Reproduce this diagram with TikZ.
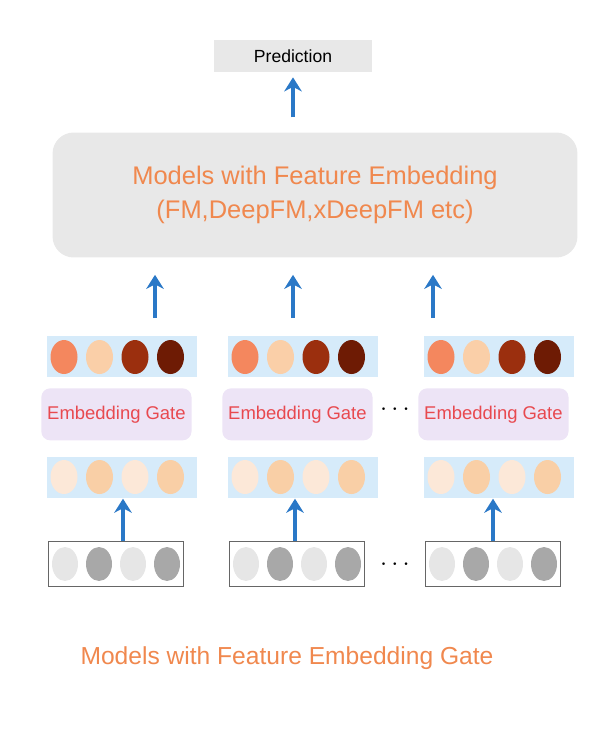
\documentclass[tikz,border=0pt]{standalone}
\usepackage{fontspec}
\setmainfont{Liberation Sans}
\usetikzlibrary{positioning, arrows.meta}
\definecolor{boxgray}{HTML}{E8E8E8}
\definecolor{vecblue}{HTML}{D6EBFA}
\definecolor{gatelilac}{HTML}{EDE4F6}
\definecolor{gatered}{HTML}{E8494F}
\definecolor{textorange}{HTML}{F0884E}
\definecolor{arrowblue}{HTML}{2A78C7}
\definecolor{cA}{HTML}{F4875E}
\definecolor{cB}{HTML}{FACFA8}
\definecolor{cC}{HTML}{9B2F0E}
\definecolor{cD}{HTML}{6E1B04}
\definecolor{cE}{HTML}{FCE8D8}
\definecolor{cF}{HTML}{F9CFA6}
\definecolor{gL}{HTML}{E6E6E6}
\definecolor{gD}{HTML}{A8A8A8}
\begin{document}
\begin{tikzpicture}[x=0.02cm, y=-0.02cm,
        vec/.style={fill=vecblue, minimum width=3cm, minimum height=0.82cm, inner sep=0pt, anchor=north west},
        raw/.style={draw=gray!80!black, thick, minimum width=2.7cm, minimum height=0.9cm, inner sep=0pt, anchor=north west},
        gate/.style={fill=gatelilac, rounded corners=5pt, minimum width=3cm, minimum height=1.04cm, text=gatered, font=\fontsize{10.5}{13}\selectfont, anchor=north west},
        uparrow/.style={arrowblue, line width=2.2pt, -{Stealth[length=8pt, width=10pt]}},
        dots/.style={font=\Large}
    ]
    \useasboundingbox (0,0) rectangle (610,730);

    % Output part
    \node[fill=boxgray, minimum width=3.18cm, minimum height=0.64cm, font=\fontsize{10}{12}\selectfont] (pred) at (293,56) {Prediction};
    \node[fill=boxgray, rounded corners=12pt, minimum width=10.5cm, minimum height=2.5cm, text=textorange, align=center,
          font=\fontsize{14.5}{19}\selectfont] (model) at (315,195) {Models with Feature Embedding\\(FM,DeepFM,xDeepFM etc)};
    \draw[uparrow, shorten >=0.1cm] ([yshift=-0.9cm]pred.south) -- (pred);

    % Three fields
    \foreach \i/\gx/\ax in {1/47/123, 2/228/295, 3/424/493} {
        \node[vec] (top\i) at (\gx,336) {};
        \node[gate] (gate\i) at (\gx-6,388) {Embedding Gate};
        \node[vec] (low\i) at (\gx,457) {};
        \node[raw] (bot\i) at (\gx+1,541) {};
        \foreach \c/\k in {cA/0, cB/1, cC/2, cD/3}
            \fill[\c] (\gx+17+35.5*\k,357) ellipse (13.5 and 17);
        \foreach \c/\k in {cE/0, cF/1, cE/2, cF/3}
            \fill[\c] (\gx+17+35.5*\k,477) ellipse (13.5 and 17);
        \foreach \c/\k in {gL/0, gD/1, gL/2, gD/3}
            \fill[\c] (\gx+18+34*\k,564) ellipse (13 and 17);
        \draw[uparrow] (bot\i.north -| \ax,0) -- (low\i.south -| \ax,0);
    }
    \foreach \i/\ax in {1/155, 2/293, 3/433}
        \draw[uparrow, shorten >=0.34cm] (top\i.north -| \ax,0) ++(0,-18) -- (model.south -| \ax,0);

    % Dots between fields
    \node[dots] (gdots) at (395,410) {$\cdots$};
    \node[dots] (bdots) at (395,565) {$\cdots$};

    % Caption
    \node[text=textorange, font=\fontsize{14}{17}\selectfont] (caption) at (287,658) {Models with Feature Embedding Gate};
\end{tikzpicture}
\end{document}
